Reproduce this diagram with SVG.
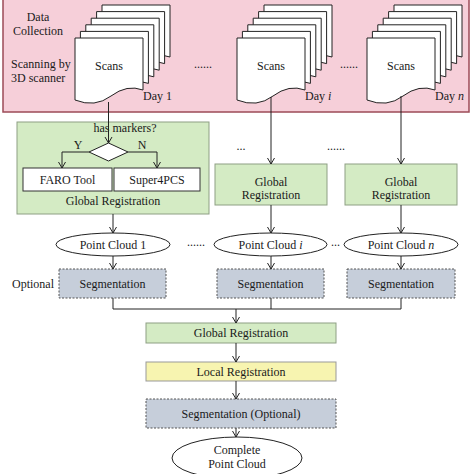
<svg xmlns="http://www.w3.org/2000/svg" width="474" height="474" viewBox="0 0 474 474">
<style>
text{font-family:"Liberation Serif","Times New Roman",serif;font-size:12px;fill:#1a1a1a}
.c{text-anchor:middle}
.page{fill:#fff;stroke:#222;stroke-width:1}
.green{fill:#d4ebc4;stroke:#8e9f84;stroke-width:1}
.white{fill:#fff;stroke:#333;stroke-width:1}
.seg{fill:#c6ceda;stroke:#555;stroke-width:1;stroke-dasharray:2 1.5}
.yel{fill:#f7f4b0;stroke:#999;stroke-width:1}
.ell{fill:#fff;stroke:#222;stroke-width:1}
.ln{fill:none;stroke:#222;stroke-width:1}
.arr{marker-end:url(#ah)}
</style>
<defs>
<marker id="ah" viewBox="-7 -5 8 10" refX="0" refY="0" markerWidth="8" markerHeight="10" markerUnits="userSpaceOnUse" orient="auto">
<path d="M-6,-3.5 L0,0 L-6,3.5" fill="none" stroke="#222" stroke-width="1"/>
</marker>
<path id="pg" d="M0,0 H68 V52 Q52,46 36,58 T0,62 Z"/>
<g id="stack">
<use href="#pg" class="page" transform="translate(27,-33)"/>
<use href="#pg" class="page" transform="translate(21.6,-26.4)"/>
<use href="#pg" class="page" transform="translate(16.2,-19.8)"/>
<use href="#pg" class="page" transform="translate(10.8,-13.2)"/>
<use href="#pg" class="page" transform="translate(5.4,-6.6)"/>
<use href="#pg" class="page"/>
</g>
</defs>

<g id="data-collection">
<rect x="3" y="-2" width="466" height="114" fill="#f6cfd9" stroke="#9c4b57" stroke-width="1.5"/>
<text x="38" y="21" class="c">Data</text>
<text x="38" y="35" class="c">Collection</text>
<text x="11" y="68">Scanning by</text>
<text x="11" y="81.5">3D scanner</text>
<text x="203" y="68" class="c">......</text>
<text x="349" y="68" class="c">......</text>
</g>

<g id="scans-day1" transform="translate(75,38)">
<use href="#stack"/>
<text x="34" y="32" class="c">Scans</text>
<text x="68" y="62">Day 1</text>
</g>
<g id="scans-dayi" transform="translate(237,38)">
<use href="#stack"/>
<text x="34" y="32" class="c">Scans</text>
<text x="68" y="62">Day <tspan font-style="italic">i</tspan></text>
</g>
<g id="scans-dayn" transform="translate(367,38)">
<use href="#stack"/>
<text x="34" y="32" class="c">Scans</text>
<text x="68" y="62">Day <tspan font-style="italic">n</tspan></text>
</g>

<g id="global-reg-1">
<rect x="17" y="122" width="192" height="92" class="green"/>
<text x="125" y="132" class="c">has markers?</text>
<text x="78" y="149" class="c">Y</text>
<text x="142" y="149" class="c">N</text>
<text x="113" y="205" class="c">Global Registration</text>
</g>
<g id="decision">
<polygon points="108.5,143 128,152 108.5,161 89,152" fill="#fff" stroke="#222" stroke-width="1"/>
</g>
<g id="faro">
<rect x="23" y="168" width="89" height="23" class="white"/>
<text x="67.5" y="184" class="c">FARO Tool</text>
</g>
<g id="super4pcs">
<rect x="114" y="168" width="86" height="23" class="white"/>
<text x="157" y="184" class="c">Super4PCS</text>
</g>
<g id="global-reg-i">
<rect x="215" y="164" width="112" height="41" class="green"/>
<text x="271" y="186" class="c">Global</text>
<text x="271" y="199" class="c">Registration</text>
</g>
<g id="global-reg-n">
<rect x="345" y="164" width="112" height="41" class="green"/>
<text x="401" y="186" class="c">Global</text>
<text x="401" y="199" class="c">Registration</text>
</g>
<text x="241" y="150" class="c">...</text>
<text x="336" y="150" class="c">......</text>

<g id="pc-1">
<ellipse cx="113" cy="244.5" rx="57" ry="11.5" class="ell"/>
<text x="113" y="249" class="c">Point Cloud 1</text>
</g>
<g id="pc-i">
<ellipse cx="270.5" cy="244.5" rx="56.5" ry="11.5" class="ell"/>
<text x="270.5" y="249" class="c">Point Cloud <tspan font-style="italic">i</tspan></text>
</g>
<g id="pc-n">
<ellipse cx="401" cy="244.5" rx="57" ry="11.5" class="ell"/>
<text x="401" y="249" class="c">Point Cloud <tspan font-style="italic">n</tspan></text>
</g>
<text x="196" y="246" class="c">......</text>
<text x="335.5" y="246" class="c">...</text>

<g id="seg-1">
<text x="12" y="288">Optional</text>
<rect x="59" y="269" width="107" height="29" class="seg"/>
<text x="112.5" y="288" class="c">Segmentation</text>
</g>
<g id="seg-i">
<rect x="217" y="269" width="107" height="29" class="seg"/>
<text x="270.5" y="288" class="c">Segmentation</text>
</g>
<g id="seg-n">
<rect x="347" y="269" width="108" height="29" class="seg"/>
<text x="401" y="288" class="c">Segmentation</text>
</g>

<g id="global-reg-all">
<rect x="146" y="323" width="190" height="20" class="green"/>
<text x="241" y="337" class="c">Global Registration</text>
</g>
<g id="local-reg">
<rect x="146" y="362" width="190" height="19" class="yel"/>
<text x="241" y="376" class="c">Local Registration</text>
</g>
<g id="seg-opt">
<rect x="146" y="399" width="190" height="29" class="seg"/>
<text x="241" y="418" class="c">Segmentation (Optional)</text>
</g>
<g id="complete-pc">
<ellipse cx="237" cy="458" rx="65" ry="21" class="ell"/>
<text x="237" y="454" class="c">Complete</text>
<text x="237" y="468" class="c">Point Cloud</text>
</g>

<g id="connectors">
<path class="ln arr" d="M108.5,102 V143"/>
<path class="ln arr" d="M89,152 H62 V168"/>
<path class="ln arr" d="M128,152 H157 V168"/>
<path class="ln arr" d="M113,214 V233"/>
<path class="ln arr" d="M271,97 V164"/>
<path class="ln arr" d="M401,96 V164"/>
<path class="ln arr" d="M271,205 V233"/>
<path class="ln arr" d="M401,205 V233"/>
<path class="ln arr" d="M113,256 V269"/>
<path class="ln arr" d="M271,256 V269"/>
<path class="ln arr" d="M401,256 V269"/>
<path class="ln" d="M113,298 V309 H401 V298 M271,298 V309"/>
<path class="ln arr" d="M236,309 V323"/>
<path class="ln arr" d="M236,343 V362"/>
<path class="ln arr" d="M236,381 V399"/>
<path class="ln arr" d="M236,428 V437"/>
</g>
</svg>
